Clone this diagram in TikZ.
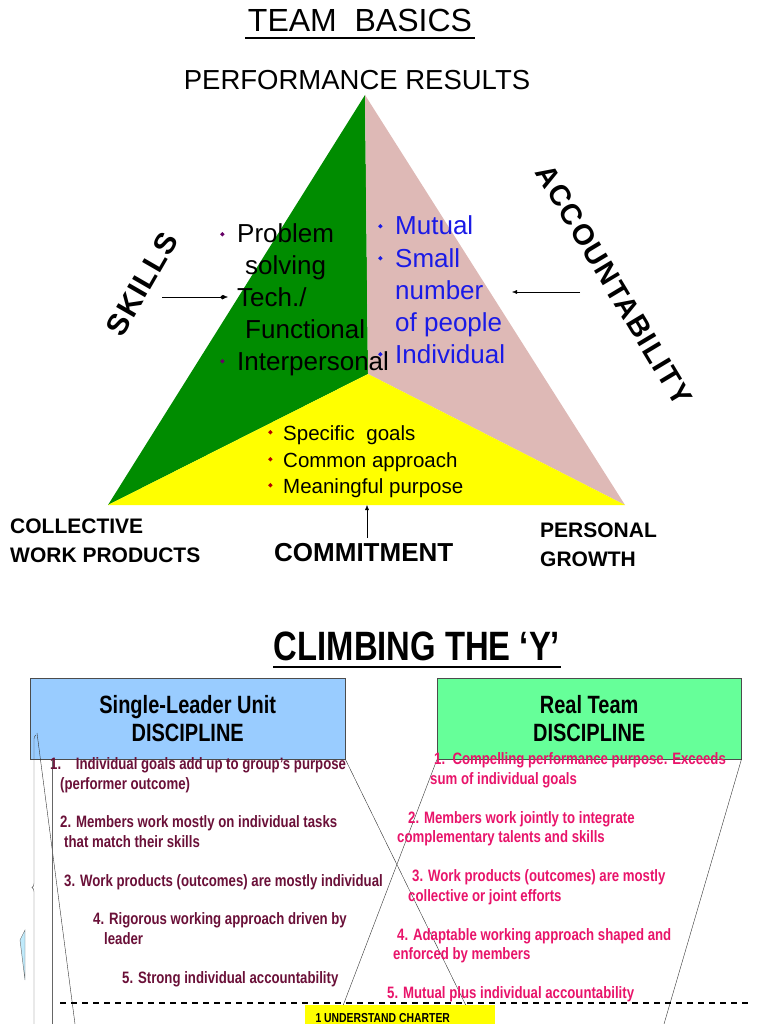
\documentclass[tikz,border=0pt]{standalone}
\usepackage{fontspec}
\setmainfont{Liberation Sans}
\newfontfamily\narrow[FakeStretch=0.8]{Liberation Sans}
\newfontfamily\wide[LetterSpace=5]{Liberation Sans}
\usetikzlibrary{arrows.meta,decorations.pathreplacing}
\definecolor{tgreen}{HTML}{008C00}
\definecolor{tpink}{HTML}{DEB9B6}
\definecolor{tyellow}{HTML}{FFFF00}
\definecolor{lblue}{HTML}{99CCFF}
\definecolor{lgreen}{HTML}{66FF99}
\definecolor{maroon}{HTML}{6A1038}
\definecolor{crim}{HTML}{E8146A}
\definecolor{bblue}{HTML}{1A1AE6}
\newcommand\bul[1]{\tikz[baseline=-0.5pt]\fill[#1,rotate=45] (0,0) rectangle (3.2pt,3.2pt);}
\begin{document}
\begin{tikzpicture}[x=1pt,y=-1pt,
  txt/.style={anchor=base west,inner sep=0pt},
  big/.style={txt,font=\fontsize{26}{30}\selectfont},
  yel/.style={txt,font=\fontsize{20.5}{24}\selectfont},
  lab/.style={txt,font=\bfseries\fontsize{21}{24}\selectfont},
  itL/.style={txt,font=\narrow\bfseries\fontsize{16.5}{18}\selectfont,text=maroon},
  itR/.style={txt,font=\narrow\bfseries\fontsize{16.5}{18}\selectfont,text=crim},
  head/.style={draw=black!70,minimum width=#1,minimum height=81pt,inner sep=0pt,align=center,font=\narrow\bfseries\fontsize{25}{28}\selectfont},
  arr/.style={-{Latex[length=5pt,width=4pt]},thin}]
\useasboundingbox (0,0) rectangle (768,1024);
% triangle
\coordinate (A) at (365,95); \coordinate (L) at (108,505); \coordinate (R) at (625,505); \coordinate (C) at (368,374);
\fill[tgreen] (A) -- (L) -- (C) -- cycle;
\fill[tpink] (A) -- (R) -- (C) -- cycle;
\fill[tyellow] (L) -- (R) -- (C) -- cycle;
% titles
\node[anchor=base,font=\fontsize{32}{36}\selectfont] (t1) at (360,32) {TEAM\ \ BASICS};
\draw[line width=1.5pt] (245,38) -- (475,38);
\node[anchor=base,font=\fontsize{27.5}{30}\selectfont] (pr) at (357,90) {PERFORMANCE RESULTS};
% skills text
\node[txt] (b1) at (220,237) {\bul{violet!80!black}};
\node[big] (p1) at (237,243) {Problem};
\node[big] (p2) at (245,274) {solving};
\node[txt] (b2) at (220,300) {\bul{black}};
\node[big] (p3) at (237,306) {Tech./};
\node[big] (p4) at (245,338) {Functional};
\node[txt] (b3) at (220,364) {\bul{violet!80!black}};
\node[big] (p5) at (237,370) {Interpersonal};
% accountability text
\node[txt] (c1) at (378,229) {\bul{bblue}};
\node[big,text=bblue] (m1) at (395,235) {Mutual};
\node[txt] (c2) at (378,261) {\bul{bblue}};
\node[big,text=bblue] (m2) at (395,267) {Small};
\node[big,text=bblue] (m3) at (395,299) {number};
\node[big,text=bblue] (m4) at (395,331) {of people};
\node[txt] (c3) at (378,357) {\bul{bblue}};
\node[big,text=bblue] (m5) at (395,363) {Individual};
% commitment text
\node[txt] (d1) at (268,435) {\bul{red!70!black}};
\node[yel] (y1) at (283,440) {Specific\ \ goals};
\node[txt] (d2) at (268,462) {\bul{red!70!black}};
\node[yel] (y2) at (283,467) {Common approach};
\node[txt] (d3) at (268,488) {\bul{red!70!black}};
\node[yel] (y3) at (283,493) {Meaningful purpose};
% side labels
\node[rotate=60,font=\wide\bfseries\fontsize{30}{32}\selectfont] (sk) at (142,284) {SKILLS};
\node[rotate=-59,font=\wide\bfseries\fontsize{29}{32}\selectfont] (ac) at (614,285) {ACCOUNTABILITY};
\coordinate (sa) at (162,297); \coordinate (sb) at (228,297);
\draw[arr] (sa) -- (sb);
\coordinate (aa) at (580,292); \coordinate (ab) at (512,292);
\draw[arr] (aa) -- (ab);
\node[lab] (cw1) at (10,533) {COLLECTIVE};
\node[lab] (cw2) at (10,562) {WORK PRODUCTS};
\node[lab] (pg1) at (540,537) {PERSONAL};
\node[lab] (pg2) at (540,566) {GROWTH};
\node[txt,font=\bfseries\fontsize{26}{28}\selectfont] (cm) at (274,561) {COMMITMENT};
\coordinate (ca) at (367,538); \coordinate (cb) at (367,505);
\draw[arr] (ca) -- (cb);
% climbing the Y
\node[anchor=base,font=\narrow\bfseries\fontsize{41}{44}\selectfont] (cy) at (417,660) {CLIMBING THE ‘Y’};
\draw[line width=1.5pt] (273,667) -- (561,667);
\node[head=315pt,fill=lblue,anchor=north west] (hl) at (30,678) {Single-Leader Unit\\DISCIPLINE};
\node[head=304pt,fill=lgreen,anchor=north west] (hr) at (437,678) {Real Team\\DISCIPLINE};
% Y lines
\coordinate (yl) at (37,733);
\draw[black!80] (yl) -- (75,1024);
\draw[black!80] (hl.south east) -- (475,1024);
\draw[black!80] (hr.south west) -- (336,1024);
\draw[black!80] (hr.south east) -- (664,1024);
\draw[dashed,line width=1.2pt,dash pattern=on 6pt off 5pt] (60,1003) -- (752,1003);
\draw[black!70,decorate,decoration={brace,amplitude=4pt,mirror}] (36,735) -- (36,1040);
\draw[black!60] (52,760) -- (52,1024);
\fill[cyan!25] (20,940) -- (25,930) -- (25,980) -- cycle;
\draw[black!60,thin] (25,930) -- (25,980) -- (20,940) -- cycle;
\node[fill=tyellow,anchor=north west,minimum width=190pt,minimum height=21pt,inner sep=0pt] (uc) at (305,1005) {};
\node[anchor=west,font=\narrow\bfseries\fontsize{13}{14}\selectfont] (uct) at (312,1018) {1 UNDERSTAND CHARTER};
% left items
\node[itL] (l1) at (50,769) {1.\ \ \ \ Individual goals add up to group’s purpose};
\node[itL] (l1b) at (60,789) {(performer outcome)};
\node[itL] (l2) at (60,827) {2. Members work mostly on individual tasks};
\node[itL] (l2b) at (64,847) {that match their skills};
\node[itL] (l3) at (64,886) {3. Work products (outcomes) are mostly individual};
\node[itL] (l4) at (93,924) {4. Rigorous working approach driven by};
\node[itL] (l4b) at (104,944) {leader};
\node[itL] (l5) at (122,983) {5. Strong individual accountability};
% right items
\node[itR] (r1) at (434,764) {1.\ \ Compelling performance purpose. Exceeds};
\node[itR] (r1b) at (430,784) {sum of individual goals};
\node[itR] (r2) at (408,823) {2. Members work jointly to integrate};
\node[itR] (r2b) at (397,842) {complementary talents and skills};
\node[itR] (r3) at (412,881) {3. Work products (outcomes) are mostly};
\node[itR] (r3b) at (408,901) {collective or joint efforts};
\node[itR] (r4) at (397,940) {4. Adaptable working approach shaped and};
\node[itR] (r4b) at (393,959) {enforced by members};
\node[itR] (r5) at (387,998) {5. Mutual plus individual accountability};
\end{tikzpicture}
\end{document}
